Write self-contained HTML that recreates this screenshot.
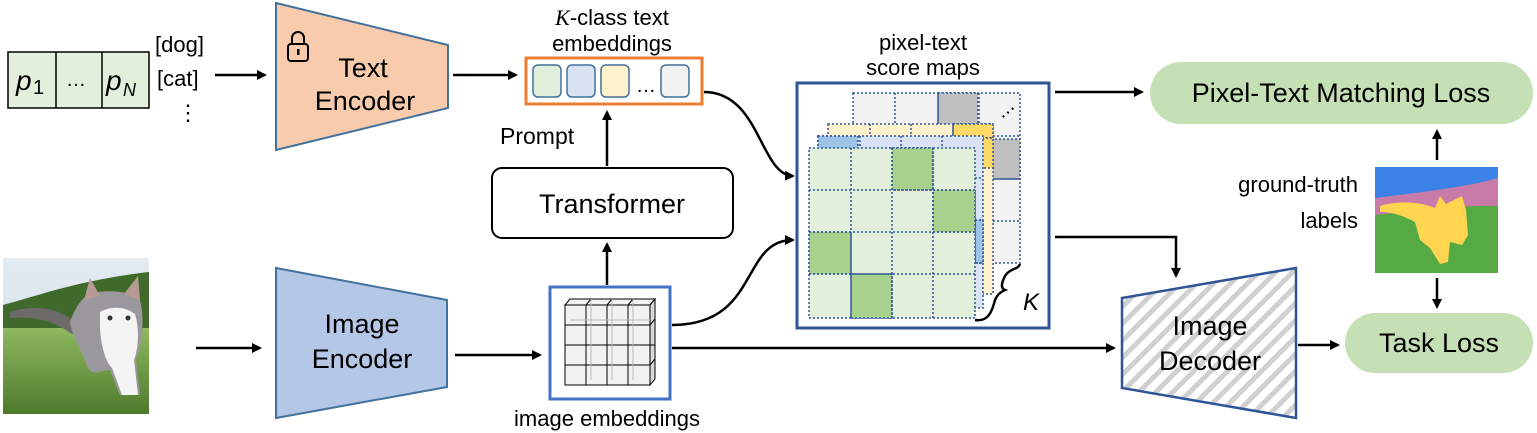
<!DOCTYPE html>
<html><head><meta charset="utf-8"><style>
html,body{margin:0;padding:0;background:#fff;}
svg{display:block;}
text{font-family:"Liberation Sans",sans-serif;fill:#000;}
</style></head><body>
<svg width="1537" height="433" viewBox="0 0 1537 433" xmlns="http://www.w3.org/2000/svg">
<defs>
<marker id="ah" markerWidth="10" markerHeight="10" refX="8" refY="5" orient="auto" markerUnits="userSpaceOnUse">
<path d="M0,0 L10,5 L0,10 z" fill="#000"/></marker>
<pattern id="hatch" width="12" height="12" patternUnits="userSpaceOnUse" patternTransform="rotate(45)">
<rect width="12" height="12" fill="#fff"/><rect width="5" height="12" fill="#d0d0d0"/></pattern>
<linearGradient id="sky" x1="0" y1="0" x2="0" y2="1"><stop offset="0" stop-color="#e4ecf2"/><stop offset="1" stop-color="#c8d8e0"/></linearGradient>
<linearGradient id="grass" x1="0" y1="0" x2="0" y2="1"><stop offset="0" stop-color="#8fb860"/><stop offset="1" stop-color="#4e7a2c"/></linearGradient>
</defs>

<!-- p tokens -->
<rect x="8" y="52" width="141" height="56" fill="#e2efda" stroke="#000" stroke-width="1.5"/>
<line x1="56" y1="52" x2="56" y2="108" stroke="#000" stroke-width="1.5"/>
<line x1="102" y1="52" x2="102" y2="108" stroke="#000" stroke-width="1.5"/>
<text x="16" y="90" font-size="28" font-family="Liberation Serif" font-style="italic">p</text>
<text x="33" y="94" font-size="20" font-family="Liberation Serif">1</text>
<text x="66" y="86" font-size="20">…</text>
<text x="106" y="90" font-size="28" font-family="Liberation Serif" font-style="italic">p</text>
<text x="123" y="96" font-size="18" font-family="Liberation Serif" font-style="italic">N</text>
<text x="155" y="52" font-size="22">[dog]</text>
<text x="157" y="86" font-size="22">[cat]</text>
<text x="177" y="120" font-size="22">⋮</text>
<line x1="215" y1="75" x2="265" y2="75" stroke="#000" stroke-width="2.5" marker-end="url(#ah)"/>

<!-- Text encoder -->
<polygon points="276,3 448,45 448,108 276,150" fill="#f8cbad" stroke="#41719c" stroke-width="2"/>
<rect x="288" y="44" width="20" height="17" rx="3" fill="none" stroke="#000" stroke-width="2"/>
<path d="M292,44 v-6 a6,6 0 0 1 12,0 v6" fill="none" stroke="#000" stroke-width="2"/>
<rect x="297" y="49" width="2.5" height="6" fill="#000"/>
<text x="363" y="77" font-size="27" text-anchor="middle">Text</text>
<text x="365" y="110" font-size="27" text-anchor="middle">Encoder</text>
<line x1="453" y1="75" x2="516" y2="75" stroke="#000" stroke-width="2.5" marker-end="url(#ah)"/>

<!-- K-class embeddings -->
<text x="612" y="25" font-size="22" text-anchor="middle"><tspan font-family="Liberation Serif" font-style="italic">K</tspan>-class text</text>
<text x="612" y="51" font-size="22" text-anchor="middle">embeddings</text>
<rect x="526" y="58" width="176" height="46" fill="#fff" stroke="#ed7d31" stroke-width="3"/>
<rect x="533" y="65" width="28" height="32" rx="5" fill="#e2efda" stroke="#41719c" stroke-width="1.5"/>
<rect x="567" y="65" width="28" height="32" rx="5" fill="#dae3f3" stroke="#41719c" stroke-width="1.5"/>
<rect x="601" y="65" width="28" height="32" rx="5" fill="#fff2cc" stroke="#41719c" stroke-width="1.5"/>
<text x="636" y="92" font-size="20">…</text>
<rect x="661" y="65" width="28" height="32" rx="5" fill="#f2f2f2" stroke="#41719c" stroke-width="1.5"/>

<text x="500" y="144" font-size="23">Prompt</text>
<line x1="607" y1="166" x2="607" y2="112" stroke="#000" stroke-width="2.5" marker-end="url(#ah)"/>
<rect x="492" y="168" width="241" height="70" rx="10" fill="#fff" stroke="#000" stroke-width="2"/>
<text x="612" y="213" font-size="27" text-anchor="middle">Transformer</text>
<line x1="607" y1="285" x2="607" y2="244" stroke="#000" stroke-width="2.5" marker-end="url(#ah)"/>

<!-- cat photo -->
<rect x="3" y="258" width="146" height="156" fill="url(#sky)"/>
<path d="M3,305 C40,295 80,280 149,272 L149,330 L3,335 z" fill="#3f6a2c"/>
<rect x="3" y="328" width="146" height="86" fill="url(#grass)"/>
<path d="M10,312 C40,303 60,310 75,322 L80,330 L72,334 C55,322 38,316 10,318 z" fill="#6d6a6a"/>
<path d="M70,322 C78,300 88,292 98,292 C115,290 130,292 140,300 C145,320 142,345 136,360 L140,395 L120,395 L110,370 C100,370 90,380 85,360 C78,345 72,335 70,322 z" fill="#9a989c"/>
<path d="M100,312 C110,306 125,306 135,314 C140,330 138,350 134,360 L138,395 L122,395 L112,368 C104,360 100,340 100,325 z" fill="#f4f4f4"/>
<path d="M84,300 L90,278 L100,296 z M124,294 L138,276 L140,300 z" fill="#b89a95"/>
<circle cx="110" cy="318" r="2.5" fill="#333"/><circle cx="128" cy="318" r="2.5" fill="#333"/>

<line x1="196" y1="348" x2="260" y2="348" stroke="#000" stroke-width="2.5" marker-end="url(#ah)"/>

<!-- Image encoder -->
<polygon points="276,268 447,300 447,387 276,418" fill="#b4c7e7" stroke="#41719c" stroke-width="2"/>
<text x="362" y="333" font-size="27" text-anchor="middle">Image</text>
<text x="362" y="368" font-size="27" text-anchor="middle">Encoder</text>
<line x1="455" y1="355" x2="540" y2="355" stroke="#000" stroke-width="2.5" marker-end="url(#ah)"/>

<!-- image embeddings -->
<rect x="550" y="287" width="120" height="112" fill="#fff" stroke="#4472c4" stroke-width="3"/>
<g stroke="#000" stroke-width="1" fill="#f2f2f2">
<polygon points="565,305 570,299 655,299 650,305"/>
<polygon points="650,305 655,299 655,379 650,385" fill="#d9d9d9"/>
<rect x="565" y="305" width="85" height="80"/>
</g>
<g stroke="#000" stroke-width="1">
<line x1="586" y1="305" x2="586" y2="385"/><line x1="607" y1="305" x2="607" y2="385"/><line x1="628" y1="305" x2="628" y2="385"/>
<line x1="565" y1="325" x2="650" y2="325"/><line x1="565" y1="345" x2="655" y2="345"/><line x1="565" y1="365" x2="650" y2="365"/>
<line x1="586" y1="305" x2="591" y2="299"/><line x1="607" y1="305" x2="612" y2="299"/><line x1="628" y1="305" x2="633" y2="299"/>
<line x1="650" y1="325" x2="655" y2="319"/><line x1="650" y1="365" x2="655" y2="359"/>
</g>
<g stroke="#bbb" stroke-width="1"><line x1="570" y1="320" x2="650" y2="320"/><line x1="591" y1="299" x2="591" y2="380"/><line x1="612" y1="299" x2="612" y2="380"/><line x1="633" y1="299" x2="633" y2="380"/></g>
<text x="607" y="426" font-size="22" text-anchor="middle">image embeddings</text>

<!-- curves into score maps -->
<path d="M704,92 C760,92 760,175 793,176" fill="none" stroke="#000" stroke-width="2.5" marker-end="url(#ah)"/>
<path d="M672,325 C760,325 740,240 793,240" fill="none" stroke="#000" stroke-width="2.5" marker-end="url(#ah)"/>

<!-- score maps -->
<text x="923" y="50" font-size="22" text-anchor="middle">pixel-text</text>
<text x="923" y="75" font-size="22" text-anchor="middle">score maps</text>
<rect x="797" y="83" width="252" height="245" fill="#fff" stroke="#2f5597" stroke-width="3"/>
<g stroke="#2f5597" stroke-width="1.5" stroke-dasharray="2,2">
<rect x="853" y="93" width="167" height="170" fill="#f2f2f2"/>
<rect x="938" y="93" width="40" height="34" fill="#bfbfbf"/>
<rect x="979" y="139" width="41" height="40" fill="#bfbfbf"/>
<line x1="895" y1="93" x2="895" y2="263"/><line x1="938" y1="93" x2="938" y2="263"/><line x1="979" y1="93" x2="979" y2="263"/>
<line x1="853" y1="136" x2="1020" y2="136"/><line x1="853" y1="179" x2="1020" y2="179"/><line x1="853" y1="221" x2="1020" y2="221"/>
<rect x="828" y="124" width="165" height="170" fill="#fff2cc"/>
<rect x="953" y="124" width="40" height="14" fill="#ffd966"/>
<rect x="978" y="138" width="15" height="30" fill="#ffd966"/>
<line x1="870" y1="124" x2="870" y2="294"/><line x1="911" y1="124" x2="911" y2="294"/><line x1="953" y1="124" x2="953" y2="294"/>
<rect x="818" y="136" width="165" height="172" fill="#dae3f3"/>
<rect x="818" y="136" width="40" height="13" fill="#9dc3e6"/>
<rect x="975" y="220" width="8" height="43" fill="#9dc3e6"/>
<line x1="860" y1="136" x2="860" y2="148"/><line x1="901" y1="136" x2="901" y2="148"/><line x1="942" y1="136" x2="942" y2="148"/>
<line x1="975" y1="178" x2="983" y2="178"/><line x1="975" y1="220" x2="983" y2="220"/><line x1="975" y1="263" x2="983" y2="263"/>
<rect x="809" y="148" width="166" height="170" fill="#e2efda"/>
<rect x="892" y="148" width="41" height="42" fill="#a9d18e"/>
<rect x="933" y="190" width="42" height="42" fill="#a9d18e"/>
<rect x="809" y="232" width="42" height="42" fill="#a9d18e"/>
<rect x="851" y="274" width="41" height="44" fill="#a9d18e"/>
<line x1="851" y1="148" x2="851" y2="318"/><line x1="892" y1="148" x2="892" y2="318"/><line x1="933" y1="148" x2="933" y2="318"/>
<line x1="809" y1="190" x2="975" y2="190"/><line x1="809" y1="232" x2="975" y2="232"/><line x1="809" y1="274" x2="975" y2="274"/>
</g>
<text x="998" y="120" font-size="18" transform="rotate(-40 1005 112)">⋯</text>
<path d="M975,320 C988,322 992,312 995,300 C997,295 1000,292 1005,290 C1000,288 1002,282 1005,276 C1010,268 1018,270 1020,264" fill="none" stroke="#000" stroke-width="2.5"/>
<text x="1023" y="310" font-size="24" font-family="Liberation Serif" font-style="italic">K</text>

<!-- pixel-text matching loss -->
<line x1="1055" y1="92" x2="1142" y2="92" stroke="#000" stroke-width="2.5" marker-end="url(#ah)"/>
<rect x="1150" y="62" width="383" height="62" rx="31" fill="#c5e0b4"/>
<text x="1341" y="102" font-size="27" text-anchor="middle">Pixel-Text Matching Loss</text>

<!-- ground truth -->
<text x="1358" y="192" font-size="22" text-anchor="end">ground-truth</text>
<text x="1358" y="228" font-size="22" text-anchor="end">labels</text>
<rect x="1375" y="167" width="123" height="106" fill="#55aa44"/>
<path d="M1375,167 L1498,167 L1498,178 C1470,188 1440,190 1375,200 z" fill="#3b82e6"/>
<path d="M1375,198 C1440,190 1470,186 1498,178 L1498,206 C1460,205 1430,210 1375,215 z" fill="#c87aa8"/>
<path d="M1380,206 C1400,200 1420,202 1435,208 L1440,196 L1446,204 L1462,196 L1466,210 L1468,235 L1462,245 L1450,242 L1448,262 L1440,264 L1430,248 L1420,240 L1415,222 C1400,214 1390,212 1380,212 z" fill="#ffd54f"/>
<line x1="1437" y1="160" x2="1437" y2="131" stroke="#000" stroke-width="2.5" marker-end="url(#ah)"/>
<line x1="1437" y1="278" x2="1437" y2="307" stroke="#000" stroke-width="2.5" marker-end="url(#ah)"/>
<rect x="1345" y="313" width="188" height="60" rx="30" fill="#c5e0b4"/>
<text x="1439" y="352" font-size="27" text-anchor="middle">Task Loss</text>

<!-- decoder -->
<polyline points="1055,237 1176,237 1176,276" fill="none" stroke="#000" stroke-width="2.5" marker-end="url(#ah)"/>
<line x1="672" y1="348" x2="1114" y2="348" stroke="#000" stroke-width="2.5" marker-end="url(#ah)"/>
<polygon points="1122,298 1296,268 1296,418 1122,388" fill="url(#hatch)" stroke="#2f5597" stroke-width="2.5"/>
<text x="1210" y="335" font-size="27" text-anchor="middle">Image</text>
<text x="1210" y="370" font-size="27" text-anchor="middle">Decoder</text>
<line x1="1298" y1="345" x2="1338" y2="345" stroke="#000" stroke-width="2.5" marker-end="url(#ah)"/>
</svg>
</body></html>
